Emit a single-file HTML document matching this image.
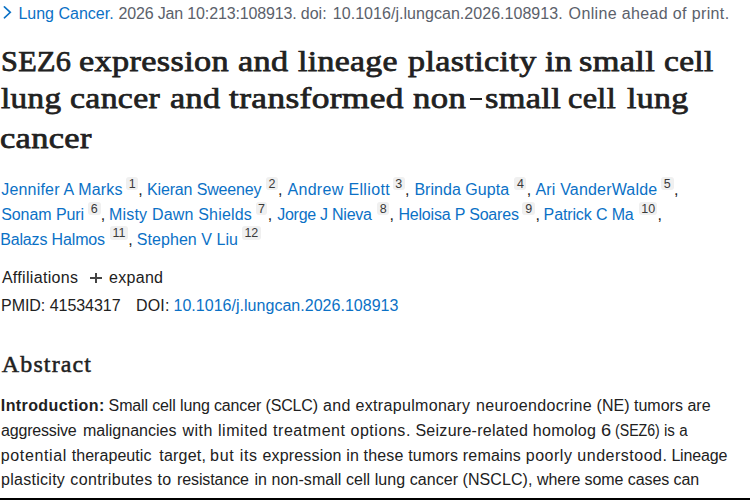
<!DOCTYPE html><html><head><meta charset="utf-8"><style>
html,body{margin:0;padding:0;background:#fff;width:750px;height:500px;overflow:hidden;position:relative}
body{font-family:"Liberation Sans",sans-serif;color:#212121;font-size:16px}
.g{position:absolute;white-space:nowrap;line-height:0;top:0;left:0}
.cit{font-size:16px;color:#5b616b}
.link{color:#0b71c6}
.title{font-family:"Liberation Serif",serif;font-weight:normal;font-size:30px;color:#212121;-webkit-text-stroke:0.75px #212121}
.au{font-size:16px}
.tx{font-size:16px}
.b{font-weight:bold}
.abs{font-family:"Liberation Serif",serif;font-size:24px;color:#212121;-webkit-text-stroke:0.5px #212121}
.bd{position:absolute;background:#f0f0f0;border-radius:3px;height:13.6px;color:#3a3a3a;font-size:12.5px;line-height:14px;text-align:center}
.cm{position:absolute;line-height:0;font-size:16px;color:#212121}
.bar{position:absolute;left:0;top:498px;width:750px;height:2px;background:#000}
.plus{position:absolute;background:#212121}
</style></head><body>
<svg style="position:absolute;left:3px;top:6px" width="10" height="14" viewBox="0 0 10 14"><path d="M1.4 0.9 L7.3 6.35 L1.4 11.8" fill="none" stroke="#0b71c6" stroke-width="1.6" stroke-linecap="round"/></svg>
<span id="s0" class="g cit link" style="left:18.40px;top:14.06px;letter-spacing:0.009px">Lung Cancer.</span>
<span id="s1" class="g cit" style="left:118.40px;top:14.06px;letter-spacing:-0.145px">2026 Jan 10:213:108913.</span>
<span id="s2" class="g cit" style="left:300.80px;top:14.06px;letter-spacing:0.000px">doi:</span>
<span id="s3" class="g cit" style="left:332.80px;top:14.06px;letter-spacing:0.041px">10.1016/j.lungcan.2026.108913.</span>
<span id="s4" class="g cit" style="left:568.60px;top:14.06px;letter-spacing:0.357px">Online ahead of print.</span>
<span id="s5" class="g title" style="left:0.78px;top:61.08px;letter-spacing:0.300px;transform:scaleX(1.0093);transform-origin:0 0">SEZ6</span>
<span id="s6" class="g title" style="left:78.97px;top:61.08px;letter-spacing:0.300px;transform:scaleX(1.1427);transform-origin:0 0">expression</span>
<span id="s7" class="g title" style="left:238.37px;top:61.08px;letter-spacing:0.300px;transform:scaleX(1.1404);transform-origin:0 0">and</span>
<span id="s8" class="g title" style="left:298.00px;top:61.08px;letter-spacing:0.300px;transform:scaleX(1.1258);transform-origin:0 0">lineage</span>
<span id="s9" class="g title" style="left:408.00px;top:61.08px;letter-spacing:0.300px;transform:scaleX(1.1378);transform-origin:0 0">plasticity</span>
<span id="s10" class="g title" style="left:544.52px;top:61.08px;letter-spacing:0.300px;transform:scaleX(1.1397);transform-origin:0 0">in</span>
<span id="s11" class="g title" style="left:579.43px;top:61.08px;letter-spacing:0.300px;transform:scaleX(1.1448);transform-origin:0 0">small</span>
<span id="s12" class="g title" style="left:663.67px;top:61.08px;letter-spacing:0.300px;transform:scaleX(1.1146);transform-origin:0 0">cell</span>
<span id="s13" class="g title" style="left:1.19px;top:98.17px;letter-spacing:0.300px;transform:scaleX(1.1074);transform-origin:0 0">lung</span>
<span id="s14" class="g title" style="left:70.39px;top:98.17px;letter-spacing:0.300px;transform:scaleX(1.1251);transform-origin:0 0">cancer</span>
<span id="s15" class="g title" style="left:169.83px;top:98.17px;letter-spacing:0.300px;transform:scaleX(1.1392);transform-origin:0 0">and</span>
<span id="s16" class="g title" style="left:228.58px;top:98.17px;letter-spacing:0.300px;transform:scaleX(1.1795);transform-origin:0 0">transformed</span>
<span id="s17" class="g title" style="left:413.14px;top:98.17px;letter-spacing:0.300px;transform:scaleX(1.1570);transform-origin:0 0">non</span>
<span id="s18" class="g title" style="left:484.86px;top:98.17px;letter-spacing:0.300px;transform:scaleX(1.1448);transform-origin:0 0">small</span>
<span id="s19" class="g title" style="left:568.16px;top:98.17px;letter-spacing:0.300px;transform:scaleX(1.0782);transform-origin:0 0">cell</span>
<span id="s20" class="g title" style="left:626.81px;top:98.17px;letter-spacing:0.300px;transform:scaleX(1.1263);transform-origin:0 0">lung</span>
<span id="s21" class="g title" style="left:0.09px;top:137.57px;letter-spacing:0.300px;transform:scaleX(1.1455);transform-origin:0 0">cancer</span>
<span id="s22" class="g au link" style="left:1.20px;top:190.16px;letter-spacing:0.207px">Jennifer A Marks</span>
<span id="s23" class="g au link" style="left:147.00px;top:190.16px;letter-spacing:-0.146px">Kieran Sweeney</span>
<span id="s24" class="g au link" style="left:287.40px;top:190.16px;letter-spacing:0.338px">Andrew Elliott</span>
<span id="s25" class="g au link" style="left:414.40px;top:190.16px;letter-spacing:0.036px">Brinda Gupta</span>
<span id="s26" class="g au link" style="left:535.40px;top:190.16px;letter-spacing:0.186px">Ari VanderWalde</span>
<span id="s27" class="g au link" style="left:1.20px;top:215.06px;letter-spacing:-0.067px">Sonam Puri</span>
<span id="s28" class="g au link" style="left:109.00px;top:215.06px;letter-spacing:0.188px">Misty Dawn Shields</span>
<span id="s29" class="g au link" style="left:277.20px;top:215.06px;letter-spacing:-0.258px">Jorge J Nieva</span>
<span id="s30" class="g au link" style="left:398.40px;top:215.06px;letter-spacing:-0.187px">Heloisa P Soares</span>
<span id="s31" class="g au link" style="left:543.60px;top:215.06px;letter-spacing:-0.127px">Patrick C Ma</span>
<span id="s32" class="g au link" style="left:0.20px;top:239.96px;letter-spacing:-0.150px">Balazs Halmos</span>
<span id="s33" class="g au link" style="left:136.80px;top:239.96px;letter-spacing:0.058px">Stephen V Liu</span>
<span id="s34" class="g tx" style="left:1.90px;top:277.56px;letter-spacing:0.309px">Affiliations</span>
<span id="s35" class="g tx" style="left:109.00px;top:277.56px;letter-spacing:0.300px">expand</span>
<span id="s36" class="g tx" style="left:1.00px;top:306.16px;letter-spacing:-0.038px">PMID: 41534317</span>
<span id="s37" class="g tx" style="left:136.00px;top:306.16px;letter-spacing:0.167px">DOI:</span>
<span id="s38" class="g tx link" style="left:173.50px;top:306.16px;letter-spacing:0.025px">10.1016/j.lungcan.2026.108913</span>
<span id="s39" class="g abs" style="left:1.80px;top:363.90px;letter-spacing:1.129px">Abstract</span>
<span id="s40" class="g tx b" style="left:0.80px;top:406.46px;letter-spacing:0.400px">Introduction:</span>
<span id="s41" class="g tx" style="left:108.60px;top:406.46px;letter-spacing:-0.139px">Small cell lung cancer (SCLC)</span>
<span id="s42" class="g tx" style="left:323.00px;top:406.46px;letter-spacing:0.329px">and extrapulmonary</span>
<span id="s43" class="g tx" style="left:476.00px;top:406.46px;letter-spacing:0.346px">neuroendocrine</span>
<span id="s44" class="g tx" style="left:596.60px;top:406.46px;letter-spacing:0.014px">(NE) tumors are</span>
<span id="s45" class="g tx" style="left:1.00px;top:430.96px;letter-spacing:-0.178px">aggressive</span>
<span id="s46" class="g tx" style="left:83.00px;top:430.96px;letter-spacing:0.009px">malignancies</span>
<span id="s47" class="g tx" style="left:182.40px;top:430.96px;letter-spacing:0.543px">with limited treatment options.</span>
<span id="s48" class="g tx" style="left:415.40px;top:430.96px;letter-spacing:0.282px">Seizure-related homolog</span>
<span id="s49" class="g tx" style="left:601.31px;top:430.96px;letter-spacing:0.000px;transform:scaleX(1.1374);transform-origin:0 0">6</span>
<span id="s50" class="g tx" style="left:614.62px;top:430.96px;letter-spacing:0.000px;transform:scaleX(0.8847);transform-origin:0 0">(SEZ6)</span>
<span id="s51" class="g tx" style="left:664.17px;top:430.96px;letter-spacing:0.000px;transform:scaleX(0.9468);transform-origin:0 0">is a</span>
<span id="s52" class="g tx" style="left:0.80px;top:455.56px;letter-spacing:0.625px">potential</span>
<span id="s53" class="g tx" style="left:71.70px;top:455.56px;letter-spacing:0.057px">therapeutic</span>
<span id="s54" class="g tx" style="left:159.30px;top:455.56px;letter-spacing:0.203px">target,</span>
<span id="s55" class="g tx" style="left:210.00px;top:455.56px;letter-spacing:0.737px">but its</span>
<span id="s56" class="g tx" style="left:262.40px;top:455.56px;letter-spacing:0.177px">expression in these tumors remains</span>
<span id="s57" class="g tx" style="left:525.80px;top:455.56px;letter-spacing:0.505px">poorly understood.</span>
<span id="s58" class="g tx" style="left:671.40px;top:455.56px;letter-spacing:-0.167px">Lineage</span>
<span id="s59" class="g tx" style="left:1.10px;top:480.26px;letter-spacing:0.267px">plasticity</span>
<span id="s60" class="g tx" style="left:70.30px;top:480.26px;letter-spacing:0.372px">contributes to</span>
<span id="s61" class="g tx" style="left:177.00px;top:480.26px;letter-spacing:-0.102px">resistance</span>
<span id="s62" class="g tx" style="left:254.50px;top:480.26px;letter-spacing:0.059px">in non-small cell lung cancer (NSCLC),</span>
<span id="s63" class="g tx" style="left:537.00px;top:480.26px;letter-spacing:-0.074px">where some cases can</span>
<div class="bd" style="left:126.4px;top:176.6px;width:11.5px">1</div>
<div class="bd" style="left:266.4px;top:176.6px;width:11.2px">2</div>
<div class="bd" style="left:392.8px;top:176.6px;width:12.0px">3</div>
<div class="bd" style="left:514.4px;top:176.6px;width:12.0px">4</div>
<div class="bd" style="left:660.8px;top:176.6px;width:12.8px">5</div>
<div class="bd" style="left:88.0px;top:201.5px;width:12.5px">6</div>
<div class="bd" style="left:255.7px;top:201.5px;width:11.8px">7</div>
<div class="bd" style="left:377.3px;top:201.5px;width:11.8px">8</div>
<div class="bd" style="left:522.4px;top:201.5px;width:12.8px">9</div>
<div class="bd" style="left:639.2px;top:201.5px;width:18.1px">10</div>
<div class="bd" style="left:110.1px;top:226.4px;width:17.9px">11</div>
<div class="bd" style="left:241.9px;top:226.4px;width:18.9px">12</div>
<span class="cm" style="left:138.2px;top:190.2px">,</span>
<span class="cm" style="left:277.9px;top:190.2px">,</span>
<span class="cm" style="left:405.1px;top:190.2px">,</span>
<span class="cm" style="left:526.7px;top:190.2px">,</span>
<span class="cm" style="left:673.9px;top:190.2px">,</span>
<span class="cm" style="left:100.8px;top:215.1px">,</span>
<span class="cm" style="left:267.8px;top:215.1px">,</span>
<span class="cm" style="left:389.4px;top:215.1px">,</span>
<span class="cm" style="left:535.5px;top:215.1px">,</span>
<span class="cm" style="left:657.6px;top:215.1px">,</span>
<span class="cm" style="left:128.3px;top:240.0px">,</span>
<div class="plus" style="left:90.3px;top:277.3px;width:12px;height:2px;background:#444"></div>
<div class="plus" style="left:95.3px;top:272.7px;width:2px;height:10.6px;background:#444"></div>
<div class="plus" style="left:469.6px;top:97.9px;width:12.8px;height:2px"></div>
<div class="bar"></div>
</body></html>
